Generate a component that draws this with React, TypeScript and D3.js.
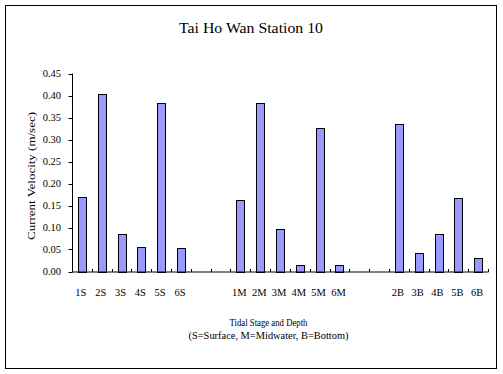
import React from "react";
import * as d3 from "d3";

const categories = ["1S","2S","3S","4S","5S","6S","","","1M","2M","3M","4M","5M","6M","","","2B","3B","4B","5B","6B"];
const velocities: (number | null)[] = [0.170,0.404,0.086,0.056,0.383,0.054,null,null,0.163,0.383,0.097,0.015,0.327,0.015,null,null,0.336,0.043,0.086,0.168,0.031];
const yTicks = [0,0.05,0.10,0.15,0.20,0.25,0.30,0.35,0.40,0.45];

const W = 503, H = 374;
const left = 72, right = 488, top = 73.5, bottom = 271.5;
const FONT = "'Liberation Serif', 'Times New Roman', 'DejaVu Serif', serif";

export default function App() {
  const keys = categories.map((_, i) => String(i));
  const x = d3.scaleBand().domain(keys).range([left, right]).paddingInner(0.6).paddingOuter(0.3);
  const y = d3.scaleLinear().domain([0, 0.45]).range([bottom, top]);
  const step = x.step();
  const bounds = d3.range(categories.length + 1).map(i => left + i * step);

  return (
    <svg width={W} height={H} style={{ position: "absolute", left: 0, top: 0, background: "#fff" }} fontFamily={FONT}>
      <rect x={5.5} y={5.5} width={491} height={363} fill="#fff" stroke="#000" strokeWidth={1} />
      <text x={251} y={33} textAnchor="middle" fontSize={14} textLength={144} lengthAdjust="spacingAndGlyphs">Tai Ho Wan Station 10</text>
      {/* bars */}
      {velocities.map((v, i) => v == null ? null : (
        <rect key={i} x={Math.round(x(String(i))!) + 0.5} y={Math.round(y(v)) + 0.5}
          width={Math.round(x.bandwidth())} height={Math.round(y(0)) - Math.round(y(v))}
          fill="#9999FF" stroke="#000" strokeWidth={1} />
      ))}
      {/* y axis */}
      <line x1={left + 0.5} x2={left + 0.5} y1={top} y2={bottom + 0.5} stroke="#000" />
      {yTicks.map(t => (
        <g key={t}>
          <line x1={left - 3.5} x2={left + 0.5} y1={Math.round(y(t)) + 0.5} y2={Math.round(y(t)) + 0.5} stroke="#000" />
          <text x={left - 11} y={y(t)} dy="0.33em" textAnchor="end" fontSize={10.5}>{t.toFixed(2)}</text>
        </g>
      ))}
      {/* x axis */}
      <line x1={left} x2={right + 0.5} y1={bottom + 0.5} y2={bottom + 0.5} stroke="#000" />
      {bounds.map((b, i) => (
        <line key={i} x1={Math.round(b) + 0.5} x2={Math.round(b) + 0.5} y1={bottom - 2.5} y2={bottom + 0.5} stroke="#000" />
      ))}
      {categories.map((c, i) => c ? (
        <text key={i} x={x(String(i))! + x.bandwidth() / 2 - 1} y={296} textAnchor="middle" fontSize={10.5}>{c}</text>
      ) : null)}
      <text x={268.5} y={326} textAnchor="middle" fontSize={10} textLength={78} lengthAdjust="spacingAndGlyphs">Tidal Stage and Depth</text>
      <text x={268.5} y={339} textAnchor="middle" fontSize={10} textLength={160} lengthAdjust="spacingAndGlyphs">(S=Surface, M=Midwater, B=Bottom)</text>
      <text transform={`translate(35,176) rotate(-90)`} textAnchor="middle" fontSize={10.5} textLength={128} lengthAdjust="spacingAndGlyphs">Current Velocity (m/sec)</text>
    </svg>
  );
}
